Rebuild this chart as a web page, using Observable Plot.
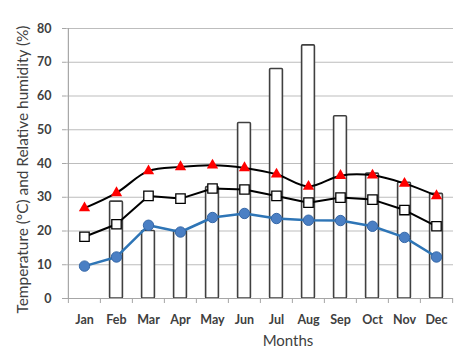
<!DOCTYPE html>
<html>
<head>
<meta charset="utf-8">
<script src="https://cdn.jsdelivr.net/npm/d3@7"></script>
<script src="https://cdn.jsdelivr.net/npm/@observablehq/plot@0.6"></script>
<style>
  html, body { margin: 0; padding: 0; background: #fff; }
  #chart { width: 474px; height: 353px; }
</style>
</head>
<body>
<div id="chart"></div>
<script>
const months = ["Jan","Feb","Mar","Apr","May","Jun","Jul","Aug","Sep","Oct","Nov","Dec"];
const humidity = [0, 28.7, 20, 20, 33, 52, 68, 75, 54, 37, 34.3, 31];
const tMax  = [26.8, 31.3, 37.8, 39, 39.5, 38.7, 36.8, 33.2, 36.4, 36.5, 34.1, 30.4];
const tMean = [18.3, 22, 30.4, 29.6, 32.6, 32.3, 30.4, 28.4, 29.9, 29.3, 26.2, 21.4];
const tMin  = [9.6, 12.3, 21.7, 19.7, 24, 25.2, 23.7, 23.2, 23.1, 21.4, 18.1, 12.3];
const yTicks = [0, 10, 20, 30, 40, 50, 60, 70, 80];
const yLabel = "Temperature (\u00b0C) and Relative humidity (%)";
const xLabel = "Months";

const rows = months.map((m, i) => ({month: m, hum: humidity[i], max: tMax[i], mean: tMean[i], min: tMin[i]}));

const W = 474, H = 353, ML = 66, MR = 21, MT = 28, MB = 55;
const bw = (W - ML - MR) / months.length;
const font = "Lato, 'Open Sans', sans-serif";

const chart = Plot.plot({
  width: W, height: H,
  marginLeft: ML, marginRight: MR, marginTop: MT, marginBottom: MB,
  style: {fontFamily: font, background: "#fff", color: "#404040"},
  x: {type: "band", domain: months, padding: 0},
  y: {domain: [0, 80]},
  marks: [
    Plot.gridY(yTicks, {stroke: "#bdbdbd", strokeOpacity: 1, strokeWidth: 1.2}),
    Plot.barY(rows, {x: "month", y: "hum", fill: "#fff", stroke: "#404040", strokeWidth: 1.6, insetLeft: 9.6, insetRight: 9.6, rx: 1}),
    Plot.ruleX([months[0]], {dx: -bw / 2, stroke: "#a6a6a6", strokeWidth: 1.2}),
    Plot.ruleY([0], {stroke: "#a6a6a6", strokeWidth: 1.2}),
    Plot.axisY(yTicks, {tickSize: 4, tickPadding: 11, stroke: "#a6a6a6", fill: "#404040", fontWeight: "bold", fontSize: 12.5, label: null}),
    Plot.axisX(months, {tickSize: 0, tickPadding: 17, fill: "#404040", fontWeight: "bold", fontSize: 12.5, label: null}),
    Plot.axisX(months, {tickSize: 5, stroke: "#a6a6a6", text: null, dx: -bw / 2, label: null}),
    Plot.axisX([months[months.length - 1]], {tickSize: 5, stroke: "#a6a6a6", text: null, dx: bw / 2, label: null}),
    Plot.line(rows, {x: "month", y: "max", stroke: "#000", strokeWidth: 2, curve: "catmull-rom"}),
    Plot.line(rows, {x: "month", y: "mean", stroke: "#000", strokeWidth: 2}),
    Plot.line(rows, {x: "month", y: "min", stroke: "#2e75b6", strokeWidth: 2.5}),
    Plot.dot(rows, {x: "month", y: "max", symbol: "triangle", r: 4.2, fill: "#ff0000", stroke: "none"}),
    Plot.dot(rows, {x: "month", y: "mean", symbol: "square", r: 5.3, fill: "#fff", stroke: "#000", strokeWidth: 1.3}),
    Plot.dot(rows, {x: "month", y: "min", symbol: "circle", r: 5.2, fill: "#4a7fc4", stroke: "#3668a8", strokeWidth: 1}),
    Plot.text([yLabel], {frameAnchor: "left", textAnchor: "middle", rotate: -90, dx: -43, dy: 6, fontSize: 15.4, fill: "#404040"}),
    Plot.text([xLabel], {frameAnchor: "bottom", dx: 28, dy: 47, fontSize: 15, fill: "#404040"})
  ]
});
document.getElementById("chart").appendChild(chart);
</script>
</body>
</html>
